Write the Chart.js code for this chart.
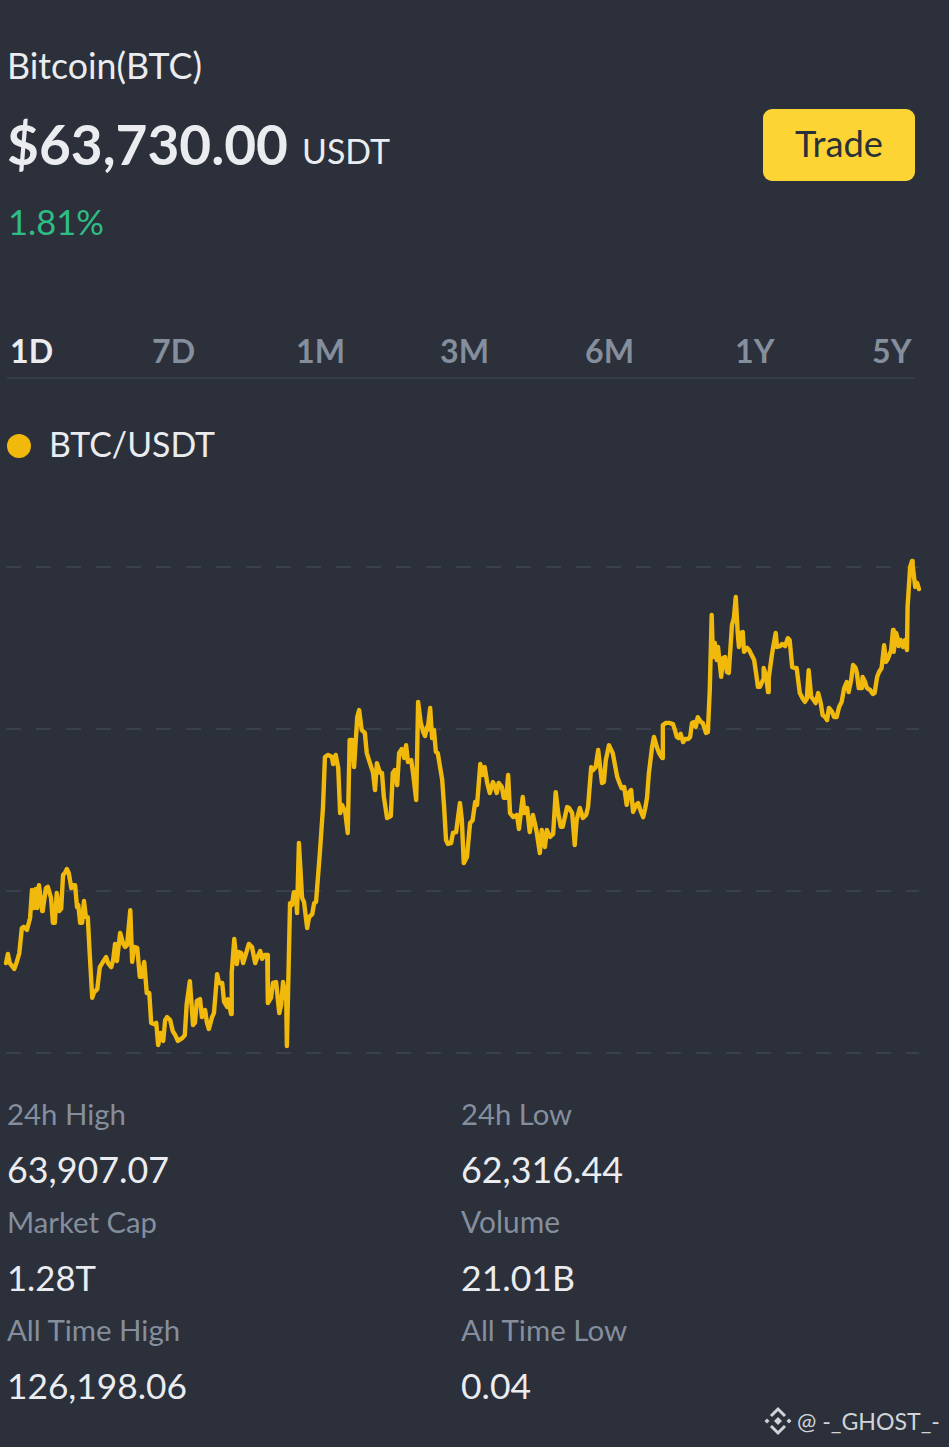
<!DOCTYPE html>
<html><head><meta charset="utf-8">
<script src="https://cdn.jsdelivr.net/npm/chart.js@4/dist/chart.umd.min.js"></script>
<style>
html,body{margin:0;padding:0;background:#2b303b;width:949px;height:1447px;overflow:hidden;}
#wrap{position:relative;width:949px;height:1447px;}
#chartBox{position:absolute;left:0;top:540px;width:949px;height:540px;}
#ui{position:absolute;left:0;top:0;}
</style></head><body>
<div id="wrap">
<svg id="ui" width="949" height="1447" xmlns="http://www.w3.org/2000/svg"></svg>
<div id="chartBox"><canvas id="c" width="949" height="540" style="width:949px;height:540px"></canvas></div>
</div>
<script>
// minutes since start of the 24h window
const minutes = [
0,3,6,13,17,21,25,28,33,38,
41,44,47,49,52,57,58,63,66,71,
74,77,80,84,87,90,93,96,99,103,
106,109,112,114,117,120,123,126,129,132,
136,139,144,148,153,158,161,166,169,172,
175,180,185,188,191,196,199,202,207,211,
214,218,222,226,229,233,237,240,244,248,
251,254,259,263,267,271,278,282,285,290,
295,298,301,306,309,314,317,320,325,328,
333,336,341,344,349,350,355,356,360,364,
367,371,374,378,383,388,393,396,401,404,
408,412,413,418,421,426,431,434,437,442,
443,448,451,454,457,459,462,467,470,475,
478,483,486,489,495,500,503,508,514,516,
520,524,527,530,535,539,542,546,549,554,
557,561,566,569,574,579,582,585,590,593,
596,601,604,607,610,613,617,620,624,628,
631,634,639,642,647,650,654,658,661,664,
665,669,672,675,678,681,688,691,694,697,
702,705,710,713,716,719,722,727,732,736,
740,743,748,752,755,759,763,768,771,774,
777,782,785,789,792,795,800,806,809,815,
818,822,826,831,834,837,842,845,850,853,
858,863,867,871,875,878,885,888,893,897,
900,905,910,915,918,923,926,930,934,937,
940,943,946,951,957,964,967,971,975,979,
982,986,989,994,997,1001,1005,1008,1011,1014,
1019,1022,1027,1030,1035,1036,1041,1046,1052,1055,
1058,1061,1064,1068,1071,1076,1079,1082,1085,1088,
1091,1096,1099,1104,1107,1110,1113,1115,1118,1121,
1123,1128,1131,1134,1137,1140,1145,1148,1151,1154,
1156,1159,1162,1164,1169,1172,1176,1180,1183,1186,
1189,1194,1195,1199,1202,1203,1208,1210,1214,1216,
1221,1224,1229,1233,1236,1240,1244,1247,1252,1257,
1260,1263,1266,1270,1273,1277,1281,1285,1288,1292,
1295,1298,1303,1306,1310,1314,1318,1322,1326,1329,
1333,1336,1340,1342,1345,1350,1351,1355,1358,1363,
1367,1370,1374,1377,1381,1385,1388,1391,1396,1399,
1400,1404,1407,1408,1411,1415,1418,1421,1422,1426,
1429,1430,1434,1437,1440
];
// BTC/USDT price (USDT)
const prices = [
62588,62618,62588,62569,62592,62621,62703,62707,62697,62736,
62828,62769,62831,62769,62844,62759,62762,62834,62838,62802,
62720,62720,62818,62759,62766,62877,62884,62897,62884,62834,
62844,62844,62772,62779,62720,62720,62792,62739,62739,62621,
62474,62493,62503,62575,62592,62608,62588,62575,62598,62651,
62595,62687,62651,62641,62647,62762,62592,62641,62638,62543,
62543,62592,62490,62490,62392,62388,62392,62319,62359,62333,
62401,62411,62401,62365,62352,62333,62342,62352,62454,62529,
62385,62392,62464,62470,62411,62434,62392,62372,62411,62424,
62552,62523,62523,62461,62444,62470,62421,62556,62667,62585,
62625,62621,62588,62615,62651,62641,62588,62605,62628,62602,
62615,62615,62457,62474,62523,62526,62424,62451,62526,62467,
62316,62785,62779,62821,62818,62752,62982,62802,62789,62703,
62739,62749,62785,62789,62949,63100,63264,63271,63264,63241,
63271,63228,63080,63107,63084,63015,63320,63320,63231,63395,
63418,63353,63343,63277,63244,63212,63156,63244,63212,63212,
63133,63064,63067,63071,63212,63221,63172,63277,63290,63261,
63303,63248,63254,63212,63123,63445,63379,63346,63333,63363,
63353,63425,63326,63353,63281,63277,63189,63100,62992,62979,
62982,63015,63018,63067,63113,63057,62916,62936,63048,63057,
63117,63107,63241,63205,63231,63179,63146,63182,63166,63146,
63179,63166,63130,63130,63205,63080,63067,63074,63028,63133,
63080,63097,63018,63074,63048,63018,62949,63025,62969,63025,
63002,63012,63149,63080,63035,63035,63100,63097,63080,62975,
63057,63097,63064,63074,63100,63231,63221,63231,63287,63231,
63179,63182,63254,63303,63277,63199,63182,63162,63166,63107,
63146,63156,63084,63107,63113,63087,63067,63094,63130,63212,
63297,63330,63294,63277,63261,63369,63376,63376,63372,63353,
63330,63326,63340,63313,63323,63323,63330,63376,63379,63363,
63395,63379,63376,63343,63346,63484,63730,63592,63638,63582,
63625,63527,63589,63592,63543,63540,63697,63720,63789,63674,
63625,63671,63674,63609,63622,63615,63599,63582,63540,63494,
63494,63517,63556,63527,63477,63523,63599,63625,63671,63625,
63628,63635,63628,63654,63648,63559,63556,63556,63474,63454,
63445,63454,63549,63461,63454,63441,63474,63441,63402,63395,
63385,63425,63412,63395,63395,63428,63445,63490,63510,63477,
63517,63566,63556,63540,63490,63490,63527,63510,63490,63484,
63471,63474,63527,63543,63556,63631,63576,63586,63615,63681,
63609,63671,63648,63628,63648,63625,63648,63615,63756,63887,
63907,63894,63822,63835,63815
];
const gridValues = [62293, 62825, 63356, 63887];
const yMin = 62204.7, yMax = 63975.9;
const tabs = ['1D','7D','1M','3M','6M','1Y','5Y'];
const statLabels = ['24h High','24h Low','Market Cap','Volume','All Time High','All Time Low'];
const statValues = ['63,907.07','62,316.44','1.28T','21.01B','126,198.06','0.04'];

// ---------- UI (real text) ----------
const NS = 'http://www.w3.org/2000/svg';
const svg = document.getElementById('ui');
const FONT = 'Lato, "Noto Sans", sans-serif';
const mctx = document.createElement('canvas').getContext('2d');
function fit(text, weight, target){ mctx.font = weight+' 100px '+FONT; return 100*target/mctx.measureText(text).width; }
function el(tag, attrs){ const e=document.createElementNS(NS,tag); for(const k in attrs) e.setAttribute(k,attrs[k]); svg.appendChild(e); return e; }
function txt(text, x, y, size, weight, color, anchor){
  const t = el('text',{x:x,y:y,'font-family':FONT,'font-size':size.toFixed(2),'font-weight':weight,fill:color,'text-anchor':anchor||'start'});
  t.textContent = text; return t;
}
const WHITE='#eaecef', GRAY='#848e9c';
txt('Bitcoin(BTC)', 7, 79, fit('Bitcoin(BTC)',400,195), 400, WHITE);
txt('$63,730.00', 7, 165, fit('$63,730.00',700,281), 700, WHITE);
txt('USDT', 302, 164, fit('USDT',400,88), 400, WHITE);
txt('1.81%', 8, 235, fit('1.81%',400,96), 400, '#2ebd85');
el('rect',{x:763,y:109,width:152,height:72,rx:9,ry:9,fill:'#fcd535'});
txt('Trade', 839, 157, fit('Trade',400,88), 400, '#2b3139', 'middle');
const tabX = [10,152,296,440,585,735,872];
const tabSize = fit('6M',700,49);
tabs.forEach((t,i)=> txt(t, tabX[i], 363, tabSize, 700, i===0?WHITE:GRAY));
el('rect',{x:7,y:377,width:908,height:2,fill:'#363c48'});
el('circle',{cx:19,cy:446,r:12,fill:'#f0b90b'});
txt('BTC/USDT', 49, 457, fit('BTC/USDT',400,166), 400, WHITE);
const statX=[7,461], labelY=[1125,1233,1341], valueY=[1183,1291,1399];
const labelW=[119,111,150,99,174,167], valueW=[162,162,89,114,180,70];
statLabels.forEach((s,i)=>{
  const col=i%2,row=Math.floor(i/2);
  txt(s, statX[col], labelY[row], fit(s,400,labelW[i]), 400, GRAY);
  txt(statValues[i], statX[col], valueY[row], fit(statValues[i],400,valueW[i]), 400, WHITE);
});
// watermark
const WM='#d0d3d8';
el('path',{d:'M771 1416 L778 1409 L785 1416',stroke:WM,'stroke-width':3,fill:'none'});
el('path',{d:'M771 1426 L778 1433 L785 1426',stroke:WM,'stroke-width':3,fill:'none'});
el('path',{d:'M778 1417 L782 1421 L778 1425 L774 1421 Z',fill:WM});
el('path',{d:'M767 1418.5 L769.5 1421 L767 1423.5 L764.5 1421 Z',fill:WM});
el('path',{d:'M789 1418.5 L791.5 1421 L789 1423.5 L786.5 1421 Z',fill:WM});
txt('@ -_GHOST_-', 797, 1430, fit('@ -_GHOST_-',400,143), 400, WM);

// ---------- Chart ----------
const n = Math.min(minutes.length, prices.length);
const pts = [];
for (let i=0;i<n;i++) pts.push({x:minutes[i], y:prices[i]});
new Chart(document.getElementById('c'), {
  type:'line',
  data:{ datasets:[{ label:'BTC/USDT', data:pts, borderColor:'#f0b90b', borderWidth:4.4,
    pointRadius:0, tension:0, borderJoinStyle:'round', borderCapStyle:'round', fill:false, clip:6 }]},
  options:{
    responsive:false, animation:false, devicePixelRatio: window.devicePixelRatio||1,
    layout:{ padding:{ left:6, right:30, top:0, bottom:0 } },
    plugins:{ legend:{display:false}, tooltip:{enabled:false} },
    scales:{
      x:{ type:'linear', min:0, max:1440, display:false },
      y:{ type:'linear', min:yMin, max:yMax, display:true,
        afterBuildTicks: s => { s.ticks = gridValues.map(v=>({value:v})); },
        ticks:{ display:false },
        grid:{ color:'#3a404c', lineWidth:2, drawTicks:false },
        border:{ display:false, dash:[15,15], dashOffset:0 } }
    }
  }
});
</script>
</body></html>
